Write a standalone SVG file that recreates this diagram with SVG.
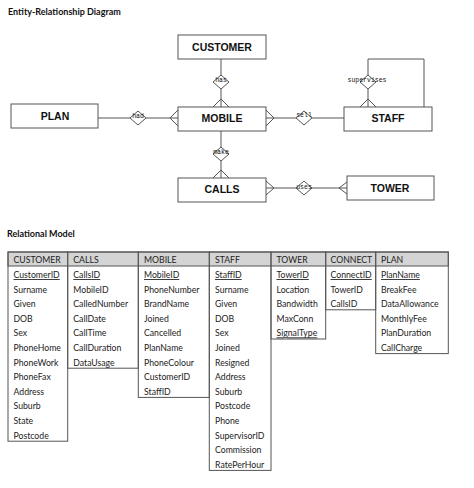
<svg xmlns="http://www.w3.org/2000/svg" width="474" height="488" viewBox="0 0 474 488">
<style>
.bg{fill:#fff}
.ent rect{fill:#fff;stroke:#555;stroke-width:1}
.ent text{font-family:"Liberation Sans",Arial,sans-serif;font-weight:bold;font-size:10.5px;fill:#111;text-anchor:middle}
.rel polygon{fill:#fff;stroke:#555;stroke-width:1}
.rel text{font-family:"Liberation Mono",monospace;font-size:6.5px;fill:#111;text-anchor:middle}
.conn line,.conn polyline{stroke:#555;stroke-width:1;fill:none}
.title{font-family:Lato,"Liberation Sans",sans-serif;font-weight:bold;font-size:9px;fill:#111}
.col rect{fill:none;stroke:#555;stroke-width:1}
.hdr{fill:#d4d4d4;stroke:#555;stroke-width:1}
.tt{font-family:Lato,"Open Sans",sans-serif;font-size:8.7px;fill:#222}
.pk{text-decoration:underline}
</style>
<rect class="bg" x="0" y="0" width="474" height="488"/>
<text class="title" x="8" y="15">Entity-Relationship Diagram</text>

<g class="conn" id="connectors">
<line x1="221" y1="59" x2="221" y2="75"/>
<line x1="221" y1="89" x2="221" y2="107"/>
<polyline points="213,107 221,99 229,107"/>
<line x1="98" y1="118" x2="130" y2="118"/>
<line x1="146" y1="118" x2="178" y2="118"/>
<polyline points="178,110 170,118 178,126"/>
<line x1="266" y1="118" x2="296" y2="118"/>
<polyline points="266,110 274,118 266,126"/>
<line x1="312" y1="118" x2="344" y2="118"/>
<line x1="221" y1="131" x2="221" y2="147"/>
<line x1="221" y1="161" x2="221" y2="178"/>
<polyline points="213,178 221,170 229,178"/>
<line x1="266" y1="188" x2="296" y2="188"/>
<polyline points="266,181 274,188 266,195"/>
<line x1="312" y1="188" x2="347" y2="188"/>
<polyline points="347,182 339,188 347,194"/>
<polyline points="368,75 368,59 424,59 424,107"/>
<line x1="368" y1="89" x2="368" y2="107"/>
<polyline points="360,107 368,99 376,107"/>
</g>

<g class="ent" id="customer"><rect x="178" y="35" width="88" height="24"/><text x="222" y="51">CUSTOMER</text></g>
<g class="ent" id="plan"><rect x="11" y="104" width="87" height="24"/><text x="55" y="120">PLAN</text></g>
<g class="ent" id="mobile"><rect x="178" y="107" width="88" height="24"/><text x="222" y="122">MOBILE</text></g>
<g class="ent" id="staff"><rect x="344" y="107" width="88" height="24"/><text x="388" y="122">STAFF</text></g>
<g class="ent" id="calls"><rect x="178" y="178" width="88" height="24"/><text x="222" y="193">CALLS</text></g>
<g class="ent" id="tower"><rect x="347" y="176" width="87" height="24"/><text x="390" y="192">TOWER</text></g>

<g class="rel" id="rel-has"><polygon points="221,75 229,82 221,89 213,82"/><text x="221" y="82">has</text></g>
<g class="rel" id="rel-supervises"><polygon points="368,75 376,82 368,89 360,82"/><text x="367" y="82">supervises</text></g>
<g class="rel" id="rel-had"><polygon points="138,111 146,118 138,125 130,118"/><text x="138" y="118">had</text></g>
<g class="rel" id="rel-sell"><polygon points="304,111 312,118 304,125 296,118"/><text x="304" y="117">sell</text></g>
<g class="rel" id="rel-make"><polygon points="221,147 229,154 221,161 213,154"/><text x="221" y="154">make</text></g>
<g class="rel" id="rel-uses"><polygon points="304,181 312,188 304,195 296,188"/><text x="304" y="189">uses</text></g>

<text class="title" x="7" y="237">Relational Model</text>

<g id="relational-model">
<rect class="hdr" x="8" y="252" width="440.3" height="14"/>
<g class="col">
<rect x="8" y="252" width="59.7" height="189.2"/>
<rect x="67.7" y="252" width="70.6" height="116.2"/>
<rect x="138.3" y="252" width="71" height="145.4"/>
<rect x="209.3" y="252" width="61.7" height="218.4"/>
<rect x="271" y="252" width="54.7" height="87"/>
<rect x="325.7" y="252" width="50" height="57.8"/>
<rect x="375.7" y="252" width="72.6" height="101.6"/>
</g>
</g>

<g id="table-customer" class="tt">
<text x="13.5" y="263">CUSTOMER</text>
<text x="13.5" y="278" class="pk">CustomerID</text>
<text x="13.5" y="292.6">Surname</text>
<text x="13.5" y="307.2">Given</text>
<text x="13.5" y="321.8">DOB</text>
<text x="13.5" y="336.4">Sex</text>
<text x="13.5" y="351">PhoneHome</text>
<text x="13.5" y="365.6">PhoneWork</text>
<text x="13.5" y="380.2">PhoneFax</text>
<text x="13.5" y="394.8">Address</text>
<text x="13.5" y="409.4">Suburb</text>
<text x="13.5" y="424">State</text>
<text x="13.5" y="438.6">Postcode</text>
</g>
<g id="table-calls" class="tt">
<text x="73.3" y="263">CALLS</text>
<text x="73.3" y="278" class="pk">CallsID</text>
<text x="73.3" y="292.6">MobileID</text>
<text x="73.3" y="307.2">CalledNumber</text>
<text x="73.3" y="321.8">CallDate</text>
<text x="73.3" y="336.4">CallTime</text>
<text x="73.3" y="351">CallDuration</text>
<text x="73.3" y="365.6">DataUsage</text>
</g>
<g id="table-mobile" class="tt">
<text x="144" y="263">MOBILE</text>
<text x="144" y="278" class="pk">MobileID</text>
<text x="144" y="292.6">PhoneNumber</text>
<text x="144" y="307.2">BrandName</text>
<text x="144" y="321.8">Joined</text>
<text x="144" y="336.4">Cancelled</text>
<text x="144" y="351">PlanName</text>
<text x="144" y="365.6">PhoneColour</text>
<text x="144" y="380.2">CustomerID</text>
<text x="144" y="394.8">StaffID</text>
</g>
<g id="table-staff" class="tt">
<text x="215" y="263">STAFF</text>
<text x="215" y="278" class="pk">StaffID</text>
<text x="215" y="292.6">Surname</text>
<text x="215" y="307.2">Given</text>
<text x="215" y="321.8">DOB</text>
<text x="215" y="336.4">Sex</text>
<text x="215" y="351">Joined</text>
<text x="215" y="365.6">Resigned</text>
<text x="215" y="380.2">Address</text>
<text x="215" y="394.8">Suburb</text>
<text x="215" y="409.4">Postcode</text>
<text x="215" y="424">Phone</text>
<text x="215" y="438.6">SupervisorID</text>
<text x="215" y="453.2">Commission</text>
<text x="215" y="467.8">RatePerHour</text>
</g>
<g id="table-tower" class="tt">
<text x="276.5" y="263">TOWER</text>
<text x="276.5" y="278" class="pk">TowerID</text>
<text x="276.5" y="292.6">Location</text>
<text x="276.5" y="307.2">Bandwidth</text>
<text x="276.5" y="321.8">MaxConn</text>
<text x="276.5" y="336.4" class="pk">SignalType</text>
</g>
<g id="table-connect" class="tt">
<text x="330.5" y="263">CONNECT</text>
<text x="330.5" y="278" class="pk">ConnectID</text>
<text x="330.5" y="292.6">TowerID</text>
<text x="330.5" y="307.2">CallsID</text>
</g>
<g id="table-plan" class="tt">
<text x="381" y="263">PLAN</text>
<text x="381" y="278" class="pk">PlanName</text>
<text x="381" y="292.6">BreakFee</text>
<text x="381" y="307.2">DataAllowance</text>
<text x="381" y="321.8">MonthlyFee</text>
<text x="381" y="336.4">PlanDuration</text>
<text x="381" y="351">CallCharge</text>
</g>
</svg>
